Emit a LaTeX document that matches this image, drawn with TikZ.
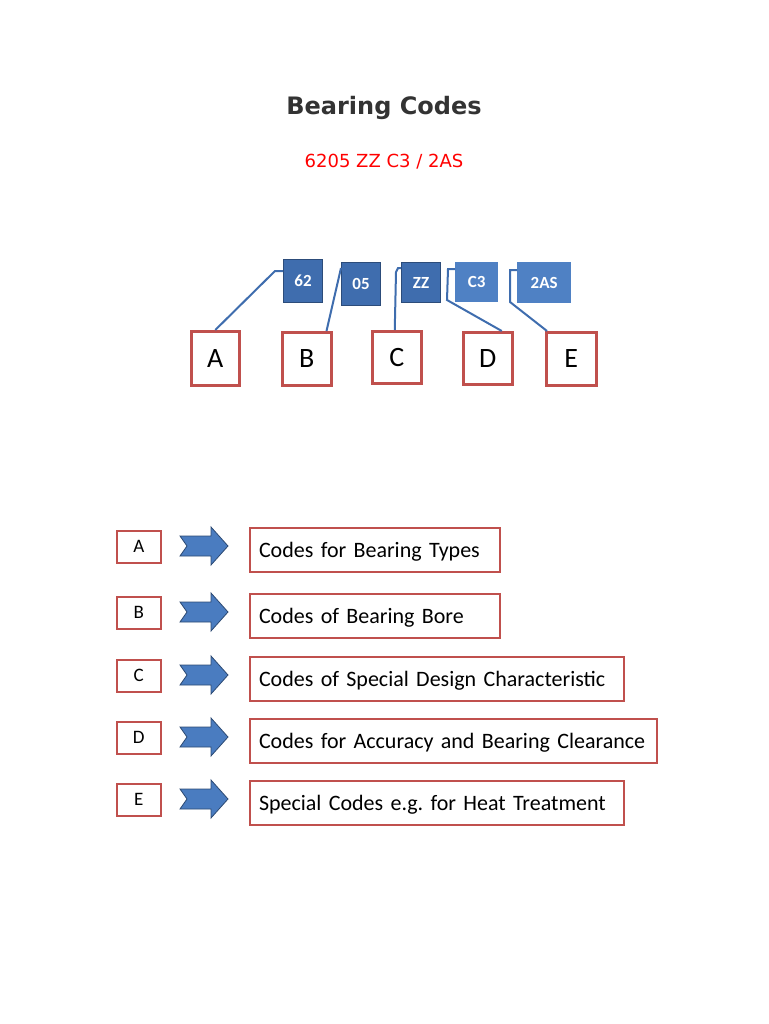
\documentclass[tikz,border=0pt]{standalone}
\usepackage{fontspec}
\setmainfont{DejaVu Sans}
\newfontfamily\carlfont{Carlito}
\definecolor{dblue}{HTML}{3F6DAE}
\definecolor{lblue}{HTML}{4F81C4}
\definecolor{bred}{HTML}{C0504D}
\definecolor{arr}{HTML}{4A7CC0}
\tikzset{
 codebox/.style={fill=#1,draw=#1!70!black,line width=1.2pt,text=white,font=\carlfont\bfseries\fontsize{17}{17}\selectfont,anchor=north west},
 letbox/.style={draw=bred,line width=2.5pt,anchor=north west,font=\carlfont\fontsize{28}{28}\selectfont},
 smallbox/.style={draw=bred,line width=1.5pt,anchor=north west,minimum width=44pt,minimum height=32pt,font=\carlfont\fontsize{19}{19}\selectfont},
 descbox/.style={draw=bred,line width=2pt,anchor=north west,minimum height=44pt,font=\carlfont\fontsize{22}{22}\selectfont,text width=#1,inner sep=0pt,align=left,text depth=0pt},
 link/.style={dblue,line width=2pt},
 barrow/.style={fill=arr,draw=arr!60!black,line width=0.8pt}
}
\begin{document}
\begin{tikzpicture}[x=1pt,y=-1pt]
\useasboundingbox (0,0) rectangle (768,1024);
\node[font=\bfseries\fontsize{24}{24}\selectfont,text=black!80] (title) at (384,108) {Bearing Codes};
\node[font=\fontsize{18}{18}\selectfont,text=red] (sub) at (384,162) {6205 ZZ C3 / 2AS};
\node[codebox=dblue,minimum width=39pt,minimum height=43pt] (c62) at (283,259) {62};
\node[codebox=dblue,minimum width=39pt,minimum height=43pt] (c05) at (341,262) {05};
\node[codebox=dblue,minimum width=39pt,minimum height=40pt] (cZZ) at (401,262) {ZZ};
\node[codebox=lblue,draw=lblue,minimum width=42pt,minimum height=39pt] (cC3) at (455,262) {C3};
\node[codebox=lblue,draw=lblue,minimum width=53pt,minimum height=40pt] (c2AS) at (517,262) {2AS};
\node[letbox,minimum width=48pt,minimum height=54pt] (A) at (190,330) {A};
\node[letbox,minimum width=49pt,minimum height=53pt] (B) at (281,331) {B};
\node[letbox,minimum width=49pt,minimum height=52pt] (C) at (371,330) {C};
\node[letbox,minimum width=49pt,minimum height=52pt] (D) at (462,331) {D};
\node[letbox,minimum width=50pt,minimum height=53pt] (E) at (545,331) {E};
\coordinate (a1) at (275,271); \coordinate (c1) at (398,268);
\coordinate (d1) at (447,300); \coordinate (e1) at (510,302);
\draw[link] (A.north) -- (a1) -- (c62.west|-a1);
\draw[link] (B.north east) ++(-6,0) -- (341,268);
\draw[link] (C.north) ++(-2,0) -- (396,272) -- (c1) -- (401,268);
\draw[link] (455,269) -- (448,269) -- (d1) -- ([xshift=14pt]D.north);
\draw[link] (517,270) -- (510,270) -- (e1) -- ([xshift=2pt]E.north west);
\foreach \l/\y/\t/\w in {A/530/Codes for Bearing Types/250,B/596/Codes of Bearing Bore/250,C/659/Codes of Special Design Characteristic/374,D/721/Codes for Accuracy and Bearing Clearance/407,E/783/Special Codes e.g.\ for Heat Treatment/374}{
 \node[smallbox] (s\l) at (116,\y) {\l};
 \draw[barrow,shift={(180,\y+16)}] (0,-10) -- (31,-10) -- (31,-19) -- (48,0) -- (31,19) -- (31,10) -- (0,10) -- (7,0) -- cycle;
 \node[descbox=\w pt,minimum width=\w pt] (d\l) at (249,\y-3) {\hspace*{9pt}\t};
}
\end{tikzpicture}
\end{document}
